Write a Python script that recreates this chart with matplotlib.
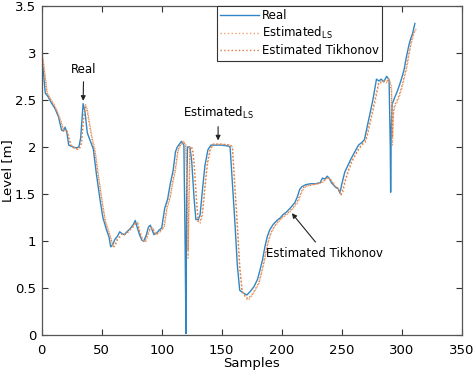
import numpy as np
import matplotlib
matplotlib.use('Agg')
import matplotlib.pyplot as plt

real_pts = [(0,2.95),(1,2.85),(3,2.57),(5,2.54),(8,2.47),(11,2.41),(14,2.32),(16.5,2.18),
    (18,2.17),(19.5,2.21),(21,2.15),(22.5,2.02),(26,2.0),(29,1.99),(31,2.0),(32.5,2.1),
    (34.5,2.46),(36,2.38),(38,2.15),(40,2.08),(43,1.98),(45.5,1.72),(48.5,1.45),(51,1.25),
    (54,1.12),(56,1.05),(57.5,0.94),(59,0.96),(61,1.02),(63,1.05),(65,1.10),(67,1.08),
    (69,1.07),(71,1.10),(73.5,1.13),(76,1.17),(78,1.22),(79.5,1.15),(81.5,1.07),(83.5,1.01),
    (85,1.0),(87,1.06),(89,1.15),(90.5,1.17),(92,1.12),(93.5,1.07),(96,1.09),(98,1.12),
    (100,1.14),(102.5,1.35),(105,1.45),(107,1.60),(109.5,1.75),(111.5,1.95),(113,2.0),
    (116.5,2.06),(118.5,2.02),(119.5,1.0),(120.2,0.02),(120.8,1.5),(121.5,2.0),(123.5,2.0),
    (125,1.85),(127,1.45),(128.5,1.23),(130.5,1.23),(132,1.28),(134,1.55),(136,1.80),
    (138.5,1.97),(141,2.02),(144,2.02),(150,2.02),(155.5,2.01),(157,2.0),(159,1.60),
    (161,1.20),(163,0.75),(165,0.48),(168,0.45),(171,0.43),(174,0.47),(177,0.52),(180,0.60),
    (182,0.70),(184,0.80),(186,0.94),(188,1.05),(190,1.12),(193,1.18),(196,1.22),(199,1.25),
    (201,1.28),(204,1.31),(207,1.35),(209,1.38),(211,1.41),(213,1.47),(215,1.55),(217,1.58),
    (220,1.60),(224,1.61),(228,1.61),(232,1.62),(234,1.67),(236,1.66),(238,1.69),(240,1.66),
    (241.5,1.62),(243,1.60),(245,1.57),(247,1.56),(248.5,1.51),(250,1.60),(252.5,1.73),
    (255,1.80),(258,1.88),(261,1.95),(264,2.02),(267,2.05),(269,2.08),(271,2.20),(273.5,2.35),
    (276,2.50),(279,2.72),(281,2.70),(283,2.72),(285,2.69),(287.5,2.75),(289.5,2.71),
    (290.5,2.0),(290.8,1.52),(291.3,2.2),(292,2.45),(294,2.52),(296,2.58),(298,2.65),
    (300,2.73),(302,2.82),(304,2.96),(306,3.08),(307.5,3.15),(309,3.20),(311,3.31)]

# least squares estimate
ls_pts = [(0,3.02),(1,2.95),(3,2.75),(4.5,2.58),(7,2.52),(10,2.46),(13,2.38),(16,2.28),
    (18.5,2.17),(21,2.18),(22.5,2.12),(24.5,2.02),(28,1.98),(31,1.97),(33,2.02),(35,2.30),
    (36.5,2.45),(38,2.40),(40,2.25),(42,2.10),(44.5,1.97),(47.5,1.68),(50.5,1.42),(53,1.22),
    (56,1.10),(58,1.02),(59.5,0.93),(61,0.95),(63,1.01),(65,1.04),(67,1.08),(69,1.07),
    (71,1.08),(73,1.11),(75.5,1.14),(78,1.18),(80,1.20),(81.5,1.12),(83.5,1.04),(85.5,0.99),
    (87,1.00),(89,1.08),(91,1.14),(92.5,1.15),(94,1.10),(95.5,1.07),(98,1.09),(100,1.12),
    (102,1.14),(104.5,1.35),(107,1.45),(109,1.60),(111.5,1.75),(113.5,1.95),(115,2.0),
    (118,2.06),(120,2.03),(121.5,1.4),(122,0.82),(123,1.5),(123.5,2.0),(125.5,2.0),
    (127,1.85),(129,1.45),(130.5,1.20),(132,1.19),(134,1.28),(136,1.55),(138,1.80),
    (140.5,1.97),(143,2.03),(150,2.03),(157.5,2.02),(159,2.0),(161,1.60),(163,1.20),
    (165,0.75),(167,0.48),(170,0.40),(172,0.37),(175,0.42),(178,0.48),(181,0.55),(183,0.65),
    (185,0.75),(187,0.88),(189,1.00),(191,1.08),(194,1.15),(197,1.20),(200,1.24),(203,1.27),
    (206,1.30),(209,1.34),(211,1.37),(213,1.40),(215,1.46),(217,1.53),(219,1.57),(222,1.59),
    (226,1.60),(230,1.61),(234,1.62),(236,1.65),(238,1.66),(240,1.67),(242,1.64),(244,1.60),
    (246,1.57),(248,1.55),(249.5,1.49),(251,1.52),(253,1.63),(255.5,1.74),(258,1.82),
    (261,1.90),(264,1.97),(267,2.02),(270,2.05),(272,2.15),(275,2.32),(278,2.48),(281,2.68),
    (283,2.68),(285,2.70),(287,2.68),(289.5,2.72),(291.5,2.65),(292.3,2.02),(293.2,2.35),
    (294,2.42),(296,2.47),(298,2.53),(300,2.62),(302,2.72),(304,2.82),(306,2.97),(308,3.10),
    (310,3.20),(312,3.26)]

# tikhonov estimate
tik_pts = [(0,3.0),(1,2.93),(3,2.72),(4.5,2.57),(7,2.51),(10,2.45),(13,2.37),(16,2.26),
    (18.5,2.17),(21,2.17),(22.5,2.10),(24.5,2.01),(28,1.98),(31,1.98),(33,2.04),(35,2.32),
    (36.5,2.44),(38,2.38),(40,2.22),(42,2.08),(44.5,1.94),(47.5,1.66),(50.5,1.40),(53,1.21),
    (56,1.09),(58,1.01),(59.5,0.94),(61,0.96),(63,1.02),(65,1.05),(67,1.08),(69,1.07),
    (71,1.09),(73,1.12),(75.5,1.15),(78,1.19),(80,1.19),(81.5,1.10),(83.5,1.03),(85.5,0.99),
    (87,1.02),(89,1.10),(91,1.15),(92.5,1.14),(94,1.09),(95.5,1.07),(98,1.10),(100,1.12),
    (102,1.16),(104.5,1.37),(107,1.47),(109,1.62),(111.5,1.78),(113.5,1.96),(115,2.01),
    (118,2.06),(120,2.02),(121.5,1.5),(122,0.9),(123,1.6),(123.5,2.0),(125.5,1.98),
    (127,1.82),(129,1.42),(130.5,1.21),(132,1.21),(134,1.31),(136,1.58),(138,1.83),
    (140.5,1.98),(143,2.03),(150,2.03),(157.5,2.02),(159,1.98),(161,1.56),(163,1.16),
    (165,0.72),(167,0.47),(170,0.41),(172,0.39),(175,0.43),(178,0.49),(181,0.56),(183,0.66),
    (185,0.77),(187,0.90),(189,1.01),(191,1.09),(194,1.16),(197,1.21),(200,1.25),(203,1.28),
    (206,1.31),(209,1.35),(211,1.38),(213,1.42),(215,1.48),(217,1.54),(219,1.58),(222,1.59),
    (226,1.60),(230,1.61),(234,1.63),(236,1.65),(238,1.67),(240,1.66),(242,1.63),(244,1.59),
    (246,1.57),(248,1.54),(249.5,1.50),(251,1.55),(253,1.65),(255.5,1.75),(258,1.84),
    (261,1.91),(264,1.98),(267,2.03),(270,2.07),(272,2.18),(275,2.34),(278,2.52),(281,2.69),
    (283,2.69),(285,2.70),(287,2.69),(289.5,2.72),(291.5,2.6),(292.3,2.1),(293.2,2.38),
    (294,2.44),(296,2.49),(298,2.55),(300,2.64),(302,2.74),(304,2.85),(306,2.99),(308,3.12),
    (310,3.21),(312,3.25)]

xticks = [0, 50, 100, 150, 200, 250, 300, 350]
yticks = [0, 0.5, 1, 1.5, 2, 2.5, 3, 3.5]

plt.rcParams['font.family'] = 'DejaVu Sans'
fig = plt.figure(figsize=(4.74, 3.74), dpi=100)
ax = fig.add_axes([0.088, 0.103, 0.886, 0.882])

rx, ry = zip(*real_pts)
lx, ly = zip(*ls_pts)
tx, ty = zip(*tik_pts)
ax.plot(rx, ry, color='#2f86c4', lw=1.0, label='Real')
ax.plot(lx, ly, color='#f0a070', lw=1.0, ls=':', label='Estimated$_{\\mathregular{LS}}$')
ax.plot(tx, ty, color='#e07a3c', lw=1.0, ls=':', label='Estimated Tikhonov')

ax.set_xlim(0, 350)
ax.set_ylim(0, 3.5)
ax.set_xticks(xticks)
ax.set_yticks(yticks)
ax.set_xticklabels([str(t) for t in xticks])
ax.set_yticklabels(['0', '0.5', '1', '1.5', '2', '2.5', '3', '3.5'])
ax.tick_params(direction='in', top=True, right=True, length=4, width=0.8,
               color='#333333', labelsize=9.5)
ax.tick_params(axis='x', pad=6)
ax.tick_params(axis='y', pad=4)
for s in ax.spines.values():
    s.set_color('#555555')
    s.set_linewidth(0.9)

ax.set_xlabel('Samples', fontsize=9.5, labelpad=0)
ax.set_ylabel('Level [m]', fontsize=9.5, labelpad=1)

arr = dict(arrowstyle='-|>', color='#222222', lw=0.8, mutation_scale=7)
ax.annotate('Real', xy=(34.5, 2.46), xytext=(35, 2.82), ha='center', va='center',
            fontsize=8.5, arrowprops=arr)
ax.annotate('Estimated$_{\\mathregular{LS}}$', xy=(147, 2.04), xytext=(147, 2.36),
            ha='center', va='center', fontsize=8.5, arrowprops=arr)
ax.annotate('Estimated Tikhonov', xy=(207, 1.32), xytext=(236, 0.87), ha='center',
            va='center', fontsize=8.5, arrowprops=arr)

leg = ax.legend(loc='upper left', bbox_to_anchor=(0.417, 1.0), fontsize=8.5,
                frameon=True, fancybox=False, edgecolor='#333333', framealpha=1,
                handlelength=3.3, handletextpad=0.2, borderpad=0.3, labelspacing=0.25,
                borderaxespad=0)
leg.get_frame().set_linewidth(0.8)

fig.savefig('out.png', dpi=100)
